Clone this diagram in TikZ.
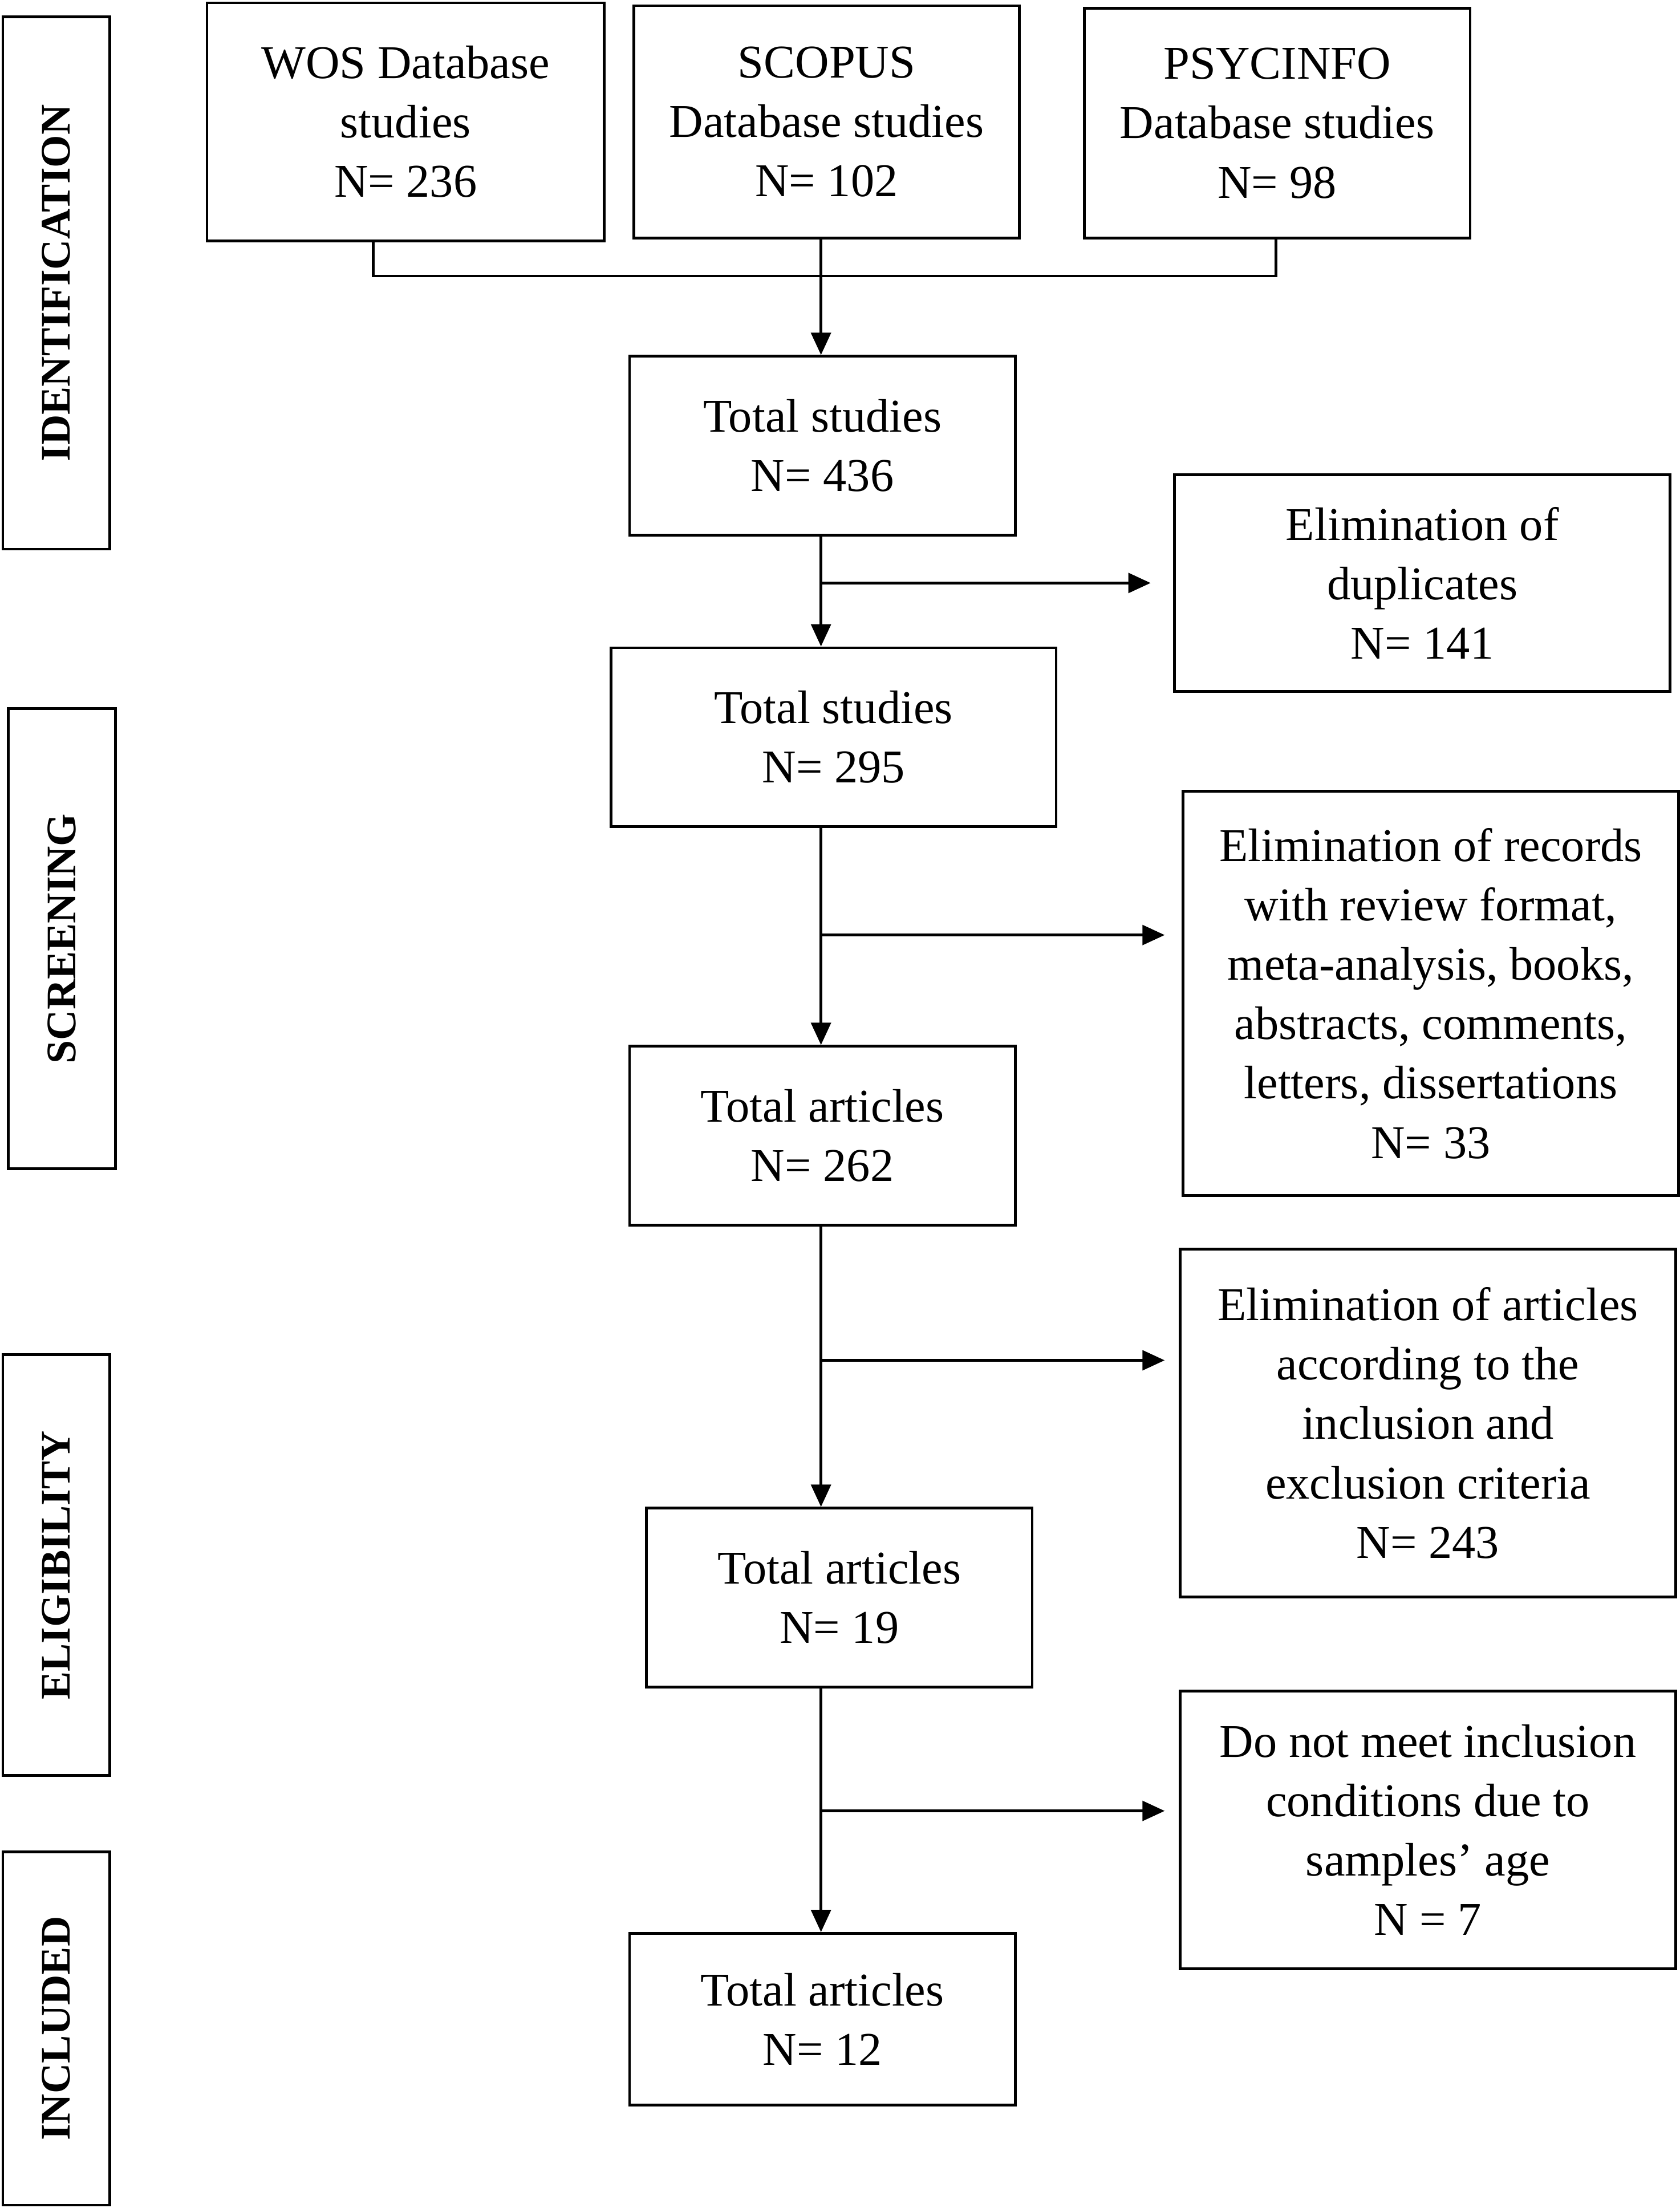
\documentclass[tikz,border=0pt]{standalone}
\usepackage{fontspec}
\setmainfont{Liberation Serif}
\usetikzlibrary{arrows.meta}
\begin{document}
\begin{tikzpicture}[x=0.02cm,y=-0.02cm,
  box/.style={draw,line width=1.1pt,align=center,inner sep=0pt,font=\fontsize{19}{24}\selectfont},
  side/.style={draw,line width=1.1pt,rotate=90,inner sep=0pt,minimum height=1.52cm,font=\fontsize{17}{20}\selectfont\bfseries},
  ln/.style={line width=1.1pt},
  arr/.style={line width=1.1pt,-{Triangle[length=9pt,width=8pt]}}]
\useasboundingbox (0,0) rectangle (1193,1568);
\node[box,minimum width=5.64cm,minimum height=3.38cm] (wos) at (288,86.5) {WOS Database\\studies\\N= 236};
\node[box,minimum width=5.48cm,minimum height=3.30cm] (sco) at (587,86.5) {SCOPUS\\Database studies\\N= 102};
\node[box,minimum width=5.48cm,minimum height=3.26cm] (psy) at (907,87.5) {PSYCINFO\\Database studies\\N= 98};
\node[box,minimum width=5.48cm,minimum height=2.54cm] (t436) at (584,316.5) {Total studies\\N= 436};
\node[box,minimum width=7.04cm,minimum height=3.08cm] (dup) at (1010,414) {Elimination of\\duplicates\\N= 141};
\node[box,minimum width=6.32cm,minimum height=2.54cm] (t295) at (592,523.5) {Total studies\\N= 295};
\node[box,minimum width=7.04cm,minimum height=5.74cm] (rec) at (1016,705.5) {Elimination of records\\with review format,\\meta-analysis, books,\\abstracts, comments,\\letters, dissertations\\N= 33};
\node[box,minimum width=5.48cm,minimum height=2.54cm] (t262) at (584,806.5) {Total articles\\N= 262};
\node[box,minimum width=7.04cm,minimum height=4.94cm] (art) at (1014,1010.5) {Elimination of articles\\according to the\\inclusion and\\exclusion criteria\\N= 243};
\node[box,minimum width=5.48cm,minimum height=2.54cm] (t19) at (596,1134.5) {Total articles\\N= 19};
\node[box,minimum width=7.04cm,minimum height=3.94cm] (dnm) at (1014,1299.5) {Do not meet inclusion\\conditions due to\\samples’ age\\N = 7};
\node[box,minimum width=5.48cm,minimum height=2.44cm] (t12) at (584,1434) {Total articles\\N= 12};
\node[side,minimum width=7.56cm] (sid) at (40,201) {IDENTIFICATION};
\node[side,minimum width=6.54cm] (sscr) at (44,666.5) {SCREENING};
\node[side,minimum width=5.98cm] (seli) at (40,1111.5) {ELIGIBILITY};
\node[side,minimum width=5.02cm] (sinc) at (40,1440.5) {INCLUDED};
% merge
\coordinate (m1) at (265,196); \coordinate (m3) at (906,196); \coordinate (m2) at (583,196);
\draw[ln] (m1 |- wos.south) -- (m1) -- (m3) -- (m3 |- psy.south);
\draw[ln] (m2 |- sco.south) -- (m2);
\draw[arr] (m2) -- (m2 |- t436.north);
% chain
\coordinate (a1) at (583,380); \coordinate (b1) at (583,414);
\draw[arr] (a1) -- (a1 |- t295.north);
\draw[arr] (b1) -- ([xshift=-0.32cm]b1 -| dup.west);
\coordinate (a2) at (583,587); \coordinate (b2) at (583,664);
\draw[arr] (a2) -- (a2 |- t262.north);
\draw[arr] (b2) -- ([xshift=-0.24cm]b2 -| rec.west);
\coordinate (a3) at (583,870); \coordinate (b3) at (583,966);
\draw[arr] (a3) -- (a3 |- t19.north);
\draw[arr] (b3) -- ([xshift=-0.2cm]b3 -| art.west);
\coordinate (a4) at (583,1198); \coordinate (b4) at (583,1286);
\draw[arr] (a4) -- (a4 |- t12.north);
\draw[arr] (b4) -- ([xshift=-0.2cm]b4 -| dnm.west);
\end{tikzpicture}
\end{document}
